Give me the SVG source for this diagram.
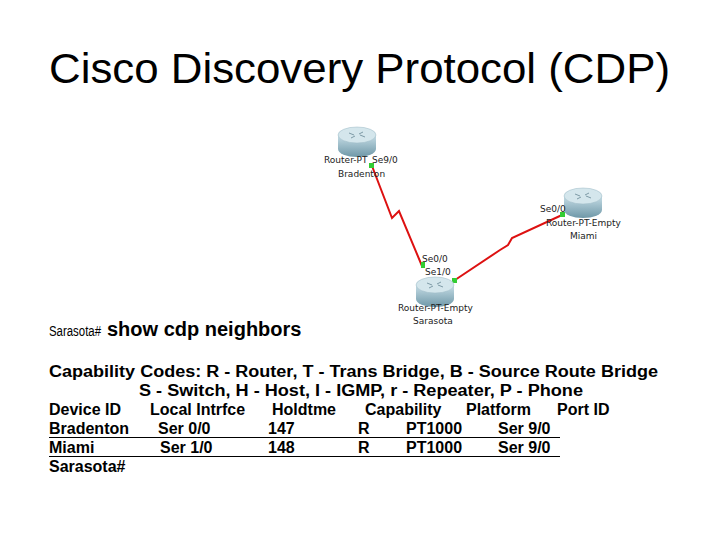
<svg xmlns="http://www.w3.org/2000/svg" width="720" height="540" viewBox="0 0 720 540">
<defs>
<linearGradient id="rg" x1="0" y1="0" x2="0" y2="1"><stop offset="0" stop-color="#c6dde6"/><stop offset="1" stop-color="#6f98a8"/></linearGradient>
<g id="router">
<path d="M-19,-7 V7 A19,8 0 0 0 19,7 V-7 Z" fill="url(#rg)"/>
<ellipse cx="0" cy="-7" rx="19" ry="8" fill="#d4e6ec" stroke="#9bb8c4" stroke-width="0.5"/>
<path d="M-8,-9 l5,2 M8,-5 l-5,-2 M-6,-4 l4,-2 M6,-10 l-4,2" stroke="#7d9aa6" stroke-width="1"/>
</g>
</defs>
<style>
.t{font-family:"Liberation Sans",Arial,sans-serif;font-weight:bold;font-size:16px;fill:#000}
.s{font-family:"DejaVu Sans",sans-serif;font-size:9px;fill:#222}
.ln{fill:none;stroke:#d11;stroke-width:2}
</style>
<rect width="720" height="540" fill="#fff"/>
<text x="49" y="83" font-family="Liberation Sans,Arial,sans-serif" font-size="42" textLength="621" lengthAdjust="spacingAndGlyphs">Cisco Discovery Protocol (CDP)</text>
<g id="connectors">
<polyline class="ln" points="372,166 392,218 399,211 422,266"/>
<polyline class="ln" points="562,215 512,238 508,245 500,250 455,280"/>
<rect x="369" y="163" width="5" height="5" fill="#3c3"/>
<rect x="421" y="262" width="4" height="6" fill="#3c3"/>
<rect x="452" y="278" width="5" height="5" fill="#3c3"/>
<rect x="560" y="212" width="5" height="5" fill="#3c3"/>
</g>
<g id="bradenton"><use href="#router" x="357" y="142"/><text class="s" x="324" y="163">Router-PT</text><text class="s" x="372" y="163">Se9/0</text><text class="s" x="338" y="177">Bradenton</text></g>
<g id="miami"><use href="#router" x="583" y="203"/><text class="s" x="540" y="212">Se0/0</text><text class="s" x="546" y="226">Router-PT-Empty</text><text class="s" x="570" y="239">Miami</text></g>
<g id="sarasota"><use href="#router" x="435" y="292"/><text class="s" x="422" y="262">Se0/0</text><text class="s" x="425" y="275">Se1/0</text><text class="s" x="398" y="311">Router-PT-Empty</text><text class="s" x="413" y="324">Sarasota</text></g>
<text x="49" y="336" font-family="Liberation Sans,Arial,sans-serif" font-size="14" textLength="52" lengthAdjust="spacingAndGlyphs">Sarasota#</text>
<text x="107" y="336" font-family="Liberation Sans,Arial,sans-serif" font-size="20" font-weight="bold">show cdp neighbors</text>
<g class="t">
<text class="t" x="49" y="377" textLength="609" lengthAdjust="spacingAndGlyphs">Capability Codes: R - Router, T - Trans Bridge, B - Source Route Bridge</text>
<text class="t" x="139" y="396" textLength="444" lengthAdjust="spacingAndGlyphs">S - Switch, H - Host, I - IGMP, r - Repeater, P - Phone</text>
<text class="t" x="49" y="415">Device ID</text><text class="t" x="150" y="415">Local Intrfce</text><text class="t" x="272" y="415">Holdtme</text><text class="t" x="365" y="415">Capability</text><text class="t" x="466" y="415">Platform</text><text class="t" x="557" y="415">Port ID</text>
<text class="t" x="49" y="434">Bradenton</text><text class="t" x="158" y="434">Ser 0/0</text><text class="t" x="268" y="434">147</text><text class="t" x="358" y="434">R</text><text class="t" x="406" y="434">PT1000</text><text class="t" x="498" y="434">Ser 9/0</text>
<text class="t" x="49" y="453">Miami</text><text class="t" x="160" y="453">Ser 1/0</text><text class="t" x="268" y="453">148</text><text class="t" x="358" y="453">R</text><text class="t" x="406" y="453">PT1000</text><text class="t" x="498" y="453">Ser 9/0</text>
<text class="t" x="49" y="472">Sarasota#</text>
</g>
<path d="M49,437.5 H560 M49,456.5 H560" stroke="#000" stroke-width="1.2"/>
</svg>
